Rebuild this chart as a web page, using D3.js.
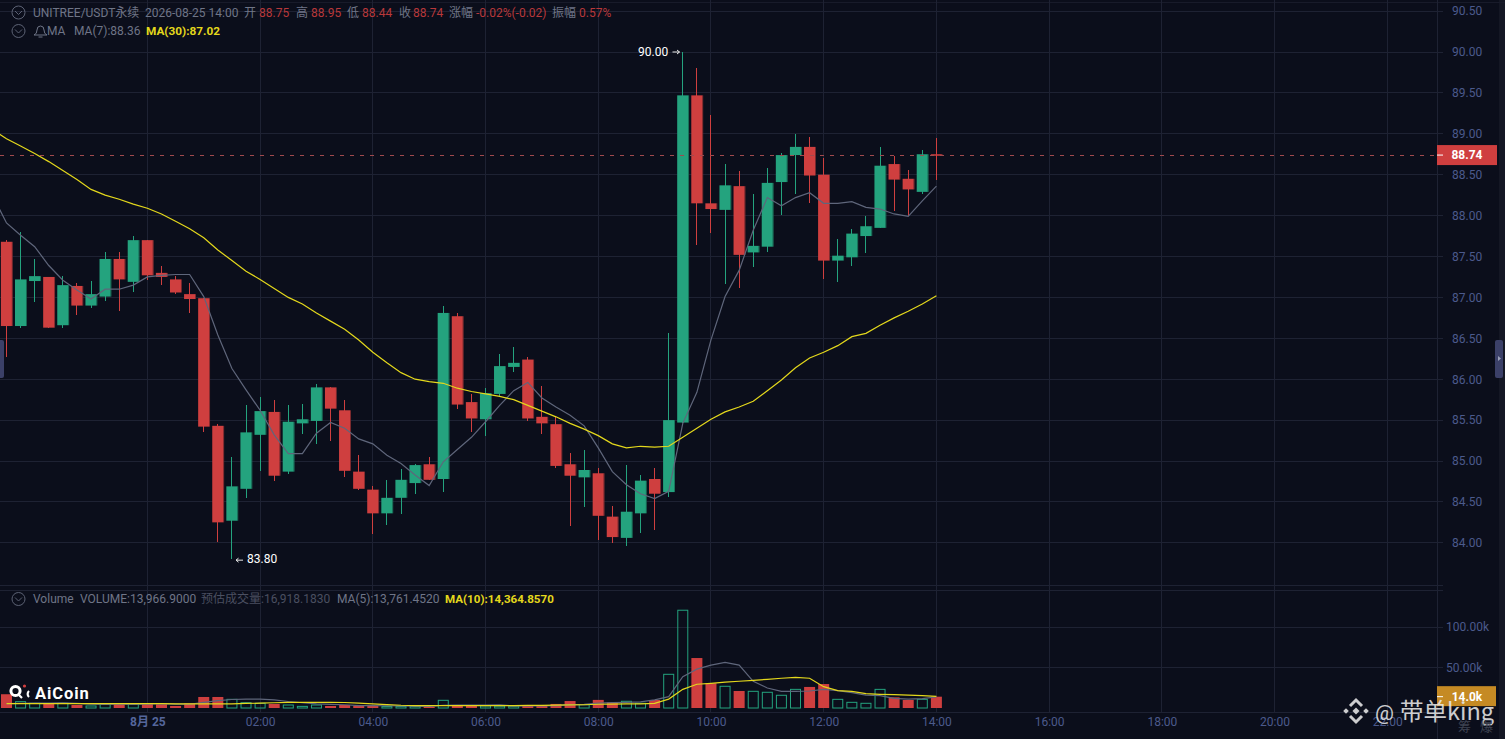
<!DOCTYPE html>
<html><head><meta charset="utf-8">
<script src="https://cdn.jsdelivr.net/npm/d3@7"></script>
<style>
html,body{margin:0;padding:0;background:#0b0e1b;overflow:hidden}
svg{display:block}
text{font-family:Roboto,"Noto Sans CJK SC",sans-serif;font-size:12px}
</style></head><body><svg id="c" width="1505" height="739"></svg>
<script>
const opens=[87.68,86.65,87.20,87.25,86.66,87.14,86.90,87.01,87.47,87.19,87.70,87.30,87.22,87.04,86.99,85.43,84.27,84.66,85.32,85.60,84.87,85.46,85.49,85.90,85.62,84.87,84.65,84.36,84.55,84.73,84.96,84.78,86.77,85.72,85.51,85.82,86.15,86.24,85.54,85.45,84.96,84.80,84.85,84.32,84.06,84.36,84.78,84.62,85.47,89.47,88.15,88.07,88.36,87.55,87.62,88.41,88.74,88.84,88.50,87.45,87.49,87.75,87.85,88.63,88.45,88.29,88.75];
const closes=[86.65,87.22,87.26,86.63,87.15,86.90,87.04,87.47,87.22,87.70,87.27,87.25,87.06,86.98,85.42,84.25,84.69,85.35,85.61,84.82,85.48,85.51,85.90,85.64,84.88,84.66,84.36,84.55,84.77,84.95,84.77,86.81,85.69,85.52,85.83,86.16,86.20,85.52,85.46,84.94,84.82,84.89,84.33,84.07,84.38,84.76,84.60,85.50,89.47,88.15,88.08,88.37,87.52,87.63,88.40,88.74,88.84,88.49,87.45,87.51,87.78,87.87,88.61,88.44,88.32,88.75,88.74];
const highs=[87.70,87.80,87.47,87.25,87.26,87.18,87.20,87.55,87.55,87.75,87.70,87.38,87.26,87.18,86.99,85.45,85.05,85.68,85.78,85.75,85.68,85.70,85.94,85.90,85.74,85.07,84.69,84.77,84.90,84.96,85.05,86.90,86.81,85.82,85.89,86.31,86.39,86.27,85.92,85.54,85.10,85.13,84.91,84.45,84.95,84.83,84.91,86.56,90.00,89.80,89.23,88.63,88.54,88.26,88.58,88.76,89.00,88.96,88.70,87.71,87.84,88.00,88.84,88.73,88.56,88.80,88.95];
const lows=[86.27,86.62,86.94,86.62,86.63,86.78,86.87,86.96,86.83,87.07,87.21,87.15,87.04,86.81,85.36,84.01,83.80,84.55,84.88,84.75,84.84,85.33,85.21,85.25,84.81,84.65,84.11,84.22,84.35,84.60,84.77,84.62,85.64,85.36,85.30,85.79,86.09,85.49,85.33,84.92,84.21,84.44,84.03,84.00,83.96,84.12,84.16,84.56,85.46,87.64,87.79,87.16,87.11,87.37,87.56,88.01,88.26,88.16,87.22,87.19,87.38,87.54,87.85,88.06,88.00,88.27,88.44];
// MA series start one candle before the first visible candle
const ma7=[88.25,87.91,87.76,87.62,87.39,87.21,87.09,86.98,87.10,87.10,87.15,87.25,87.27,87.28,87.28,87.01,86.54,86.13,85.87,85.62,85.32,85.09,85.09,85.34,85.47,85.40,85.27,85.21,85.07,84.97,84.83,84.70,84.99,85.14,85.29,85.48,85.68,85.86,85.96,85.77,85.66,85.56,85.43,85.16,84.87,84.71,84.60,84.54,84.63,85.46,85.84,86.48,87.01,87.33,87.82,88.22,88.12,88.22,88.28,88.15,88.15,88.17,88.10,88.08,88.02,87.99,88.18,88.36];
const ma30=[89.05,88.94,88.85,88.76,88.66,88.55,88.44,88.32,88.25,88.20,88.14,88.09,88.02,87.93,87.84,87.73,87.58,87.45,87.32,87.22,87.11,87.00,86.92,86.81,86.71,86.61,86.48,86.33,86.20,86.08,86.00,85.97,85.95,85.89,85.85,85.82,85.79,85.75,85.68,85.61,85.54,85.46,85.39,85.31,85.21,85.16,85.18,85.17,85.18,85.29,85.40,85.51,85.60,85.66,85.73,85.86,85.99,86.14,86.26,86.33,86.41,86.52,86.56,86.66,86.75,86.83,86.92,87.02];
const volumes=[17,7.8,5.8,5.8,5.8,3.7,2.5,4.6,5.8,5,5.8,4.6,2.5,5.8,13.6,13.6,10.7,6.5,5.8,5,3.7,2,3.7,2.5,3.7,2.5,2.5,1.8,1.8,1.8,1.5,9.5,2.5,2.5,2.5,2.3,2.3,2.5,3.3,5,8.6,4,10,7,8.3,5.8,9.9,41.6,120.7,61.7,30.5,26.8,21,20.6,19.4,15.7,23,26,29.6,10.7,7,5.8,23,13.2,9.9,10.7,13.97];
const volMa5=[5.5,5.6,6.0,6.2,6.3,5.8,4.8,4.4,4.6,4.5,4.6,5.3,4.9,4.6,7.0,9.0,10.5,11.0,11.0,10.0,8.0,6.5,5.0,4.5,4.0,3.0,3.0,2.8,2.6,2.2,2.0,3.4,3.6,3.7,3.7,3.8,2.5,2.5,2.5,3.0,4.2,4.5,6.0,6.7,7.0,7.5,10.0,14.0,38.6,48.0,53.0,56.4,53.0,33.0,24.7,20.6,20.6,21.0,23.0,21.4,18.9,16.0,15.2,12.0,11.0,11.5,13.76];
const volMa10=[5.3,5.3,5.3,5.3,5.3,5.3,5.3,5.3,5.3,5.3,5.3,5.3,5.2,5.0,5.0,5.0,5.2,5.6,6.0,6.5,7.0,7.0,7.0,7.0,6.8,6.0,5.2,4.2,3.4,3.0,3.0,3.0,3.0,3.0,3.0,3.0,3.0,3.2,3.3,3.5,3.8,4.0,4.6,4.8,5.0,5.2,5.8,11.0,23.0,29.3,30.5,32.0,33.0,34.2,35.4,36.7,37.9,36.7,26.3,21.4,20.6,17.7,16.9,16.4,16.0,15.2,14.36];
const priceTicks=[84,84.5,85,85.5,86,86.5,87,87.5,88,88.5,89,89.5,90,90.5];
const volumeTicks=[50,100];
const timeTickIndex=[10,18,26,34,42,50,58,66,74,82,90,98];
const timeTickLabels=["8月 25","02:00","04:00","06:00","08:00","10:00","12:00","14:00","16:00","18:00","20:00","22:00"];
const lastPrice=88.74, lastVolume=14, highMark=90.00, lowMark=83.80;

const BG="#0b0e1b",GRID="#1e2233",RED="#cf3f3f",GREEN="#24a37e",GREY="#5f667b",YEL="#e4d81c",AXIS="#4b5a8c",TXT="#6f7587",HRED="#b8383a";
const svg=d3.select("#c");
const W=1437;
const x=d3.scaleLinear().domain([0,66]).range([6.5,936.4]);
const y=d3.scaleLinear().domain([84,90]).range([542.8,52]);
const yV=d3.scaleLinear().domain([0,100]).range([708,627]);

const defs=svg.append("defs");
defs.append("clipPath").attr("id","p1").append("rect").attr("x",0).attr("y",0).attr("width",W).attr("height",585);
defs.append("clipPath").attr("id","p2").append("rect").attr("x",0).attr("y",590).attr("width",W).attr("height",122);

// frame
svg.append("rect").attr("x",1499).attr("y",0).attr("width",6).attr("height",739).attr("fill","#141724");
const hl=(yy,x1,x2,col)=>svg.append("line").attr("x1",x1).attr("x2",x2).attr("y1",yy).attr("y2",yy).attr("stroke",col||GRID);
const vl=(xx,y1,y2,col)=>svg.append("line").attr("x1",xx).attr("x2",xx).attr("y1",y1).attr("y2",y2).attr("stroke",col||GRID);
hl(2.5,0,1505,"#181b2a");hl(585.5,0,1443);hl(590.5,0,1443);hl(712.5,0,1443);
vl(1437.5,0,739);

// grid
const gridG=svg.append("g").attr("shape-rendering","crispEdges");
gridG.selectAll("line.h").data(priceTicks).join("line").attr("class","h").attr("x1",0).attr("x2",1443).attr("y1",d=>y(d)).attr("y2",d=>y(d)).attr("stroke",GRID);
gridG.selectAll("line.hv").data(volumeTicks).join("line").attr("class","hv").attr("x1",0).attr("x2",1443).attr("y1",d=>yV(d)).attr("y2",d=>yV(d)).attr("stroke",GRID);
gridG.selectAll("line.v").data(timeTickIndex).join("line").attr("class","v").attr("x1",d=>x(d)).attr("x2",d=>x(d)).attr("y1",0).attr("y2",712).attr("stroke",GRID);

// axes
const ax=svg.append("g").attr("transform","translate(1437,0)").call(d3.axisRight(y).tickValues(priceTicks).tickSize(0).tickPadding(15).tickFormat(d3.format(".2f")));
const axV=svg.append("g").attr("transform","translate(1437,0)").call(d3.axisRight(yV).tickValues(volumeTicks).tickSize(0).tickPadding(9).tickFormat(d=>d3.format(".2f")(d)+"k"));
const axT=svg.append("g").attr("transform","translate(0,712)").call(d3.axisBottom(x).tickValues(timeTickIndex).tickSize(0).tickPadding(5).tickFormat((d,i)=>timeTickLabels[i]));
[ax,axV,axT].forEach(g=>{g.select(".domain").remove();g.selectAll("text").attr("fill",AXIS).style("font-size","12px");});
axT.selectAll("text").filter((d,i)=>i===0).attr("font-weight","700").attr("fill","#55669c");

// candles
const idx=d3.range(opens.length);
const col=i=>closes[i]>=opens[i]?GREEN:RED;
const colDark=i=>closes[i]>=opens[i]?"#1a6f58":"#7f2c30";
const p1=svg.append("g").attr("clip-path","url(#p1)");
p1.append("g").attr("shape-rendering","crispEdges").selectAll("line").data(idx).join("line")
  .attr("x1",i=>x(i)).attr("x2",i=>x(i)).attr("y1",i=>y(highs[i])).attr("y2",i=>y(lows[i])).attr("stroke",col);
const bodyTop=i=>y(Math.max(opens[i],closes[i]));
const bodyH=i=>Math.max(1.5,Math.abs(y(opens[i])-y(closes[i])));
p1.append("g").selectAll("rect").data(idx).join("rect")
  .attr("x",i=>x(i)+5.3).attr("width",1).attr("y",bodyTop).attr("height",bodyH).attr("fill",colDark);
p1.append("g").selectAll("rect").data(idx).join("rect")
  .attr("x",i=>x(i)-5.6).attr("width",11).attr("y",bodyTop).attr("height",bodyH).attr("fill",col);

const line=(yy)=>d3.line().x((d,i)=>x(i-1)).y(d=>yy(d));
p1.append("path").attr("d",line(y)(ma7)).attr("fill","none").attr("stroke",GREY).attr("stroke-width",1.2);
p1.append("path").attr("d",line(y)(ma30)).attr("fill","none").attr("stroke",YEL).attr("stroke-width",1.2);

// last price line
svg.append("line").attr("x1",0).attr("x2",W).attr("y1",y(lastPrice)).attr("y2",y(lastPrice))
  .attr("stroke","#a04a4e").attr("stroke-dasharray","4 6").attr("shape-rendering","crispEdges");
svg.append("rect").attr("x",1437).attr("y",y(lastPrice)-10).attr("width",60).attr("height",20).attr("fill",RED);
svg.append("line").attr("x1",1437).attr("x2",1443).attr("y1",y(lastPrice)).attr("y2",y(lastPrice)).attr("stroke","#fff");
svg.append("text").attr("x",1467).attr("y",y(lastPrice)+4).attr("text-anchor","middle").attr("fill","#fff").attr("font-weight","700").text(lastPrice.toFixed(2));

// extreme labels
const arrow=(x0,yy,dir)=>svg.append("path").attr("d",dir>0?`M${x0} ${yy} h7 m-2.5 -2 l2.5 2 l-2.5 2`:`M${x0+7} ${yy} h-7 m2.5 -2 l-2.5 2 l2.5 2`).attr("fill","none").attr("stroke","#e8e8e8").attr("stroke-width",1);
svg.append("text").attr("x",638).attr("y",y(highMark)+3.5).attr("fill","#fff").text(highMark.toFixed(2));
arrow(672.5,y(highMark),1);
svg.append("text").attr("x",247).attr("y",y(lowMark)+4).attr("fill","#fff").text(lowMark.toFixed(2));
arrow(236,y(lowMark)+1,-1);

// volume
const p2=svg.append("g").attr("clip-path","url(#p2)");
p2.append("g").selectAll("rect").data(idx).join("rect")
  .attr("x",i=>closes[i]>=opens[i]?x(i)-5:x(i)-5.5)
  .attr("width",i=>closes[i]>=opens[i]?10:11)
  .attr("y",i=>yV(volumes[i]))
  .attr("height",i=>yV(0)-yV(volumes[i]))
  .attr("fill",i=>closes[i]>=opens[i]?"none":RED)
  .attr("stroke",i=>closes[i]>=opens[i]?GREEN:"none")
  .attr("stroke-width",1);
const lineV=d3.line().x((d,i)=>x(i)).y(d=>yV(d));
p2.append("path").attr("d",lineV(volMa5)).attr("fill","none").attr("stroke",GREY).attr("stroke-width",1.2);
p2.append("path").attr("d",lineV(volMa10)).attr("fill","none").attr("stroke",YEL).attr("stroke-width",1.2);
svg.append("rect").attr("x",1437).attr("y",yV(lastVolume)-10.5).attr("width",59).attr("height",20).attr("fill","#c58a24");
svg.append("line").attr("x1",1437).attr("x2",1443).attr("y1",yV(lastVolume)).attr("y2",yV(lastVolume)).attr("stroke","#fff");
svg.append("text").attr("x",1467).attr("y",yV(lastVolume)+4).attr("text-anchor","middle").attr("fill","#fff").attr("font-weight","700").text(lastVolume.toFixed(1)+"k");

// legend text
const t=(xx,yy,s,c,b,fs)=>{const e=svg.append("text").attr("x",xx).attr("y",yy).attr("fill",c||TXT).attr("font-weight",b?"700":null).text(s);if(fs)e.style("font-size",fs+"px");return e;};
const chev=(cx,cy)=>{const g=svg.append("g").attr("fill","none").attr("stroke","#5c6274");
  g.append("circle").attr("cx",cx).attr("cy",cy).attr("r",6.5);
  g.append("path").attr("d",`M${cx-3.5} ${cy-1.5} L${cx} ${cy+2} L${cx+3.5} ${cy-1.5}`);};
chev(18.5,12.5);chev(18.5,31);chev(18.5,599);
const Y1=17,Y2=35,Y3=603;
t(33,Y1,"UNITREE/USDT永续");t(145,Y1,"2026-08-25 14:00");
t(244,Y1,"开");t(259,Y1,"88.75",HRED);t(296,Y1,"高");t(311,Y1,"88.95",HRED);
t(347,Y1,"低");t(362,Y1,"88.44",HRED);t(399,Y1,"收");t(413,Y1,"88.74",HRED);
t(449,Y1,"涨幅");t(476,Y1,"-0.02%(-0.02)",HRED);t(552,Y1,"振幅");t(579,Y1,"0.57%",HRED);
svg.append("path").attr("d","M34 35 q3 -1 3 -5 q0 -4 3.5 -4 q3.5 0 3.5 4 q0 4 3 5 z M38.5 37 h4").attr("fill","none").attr("stroke","#6f7587");
t(47,Y2,"MA");t(74,Y2,"MA(7):88.36");t(146,Y2,"MA(30):87.02",YEL,true,11.8);
t(33,Y3,"Volume");t(80,Y3,"VOLUME:13,966.9000");t(201,Y3,"预估成交量:16,918.1830","#4a4f60");
t(337,Y3,"MA(5):13,761.4520");t(445,Y3,"MA(10):14,364.8570",YEL,true,11.6);

// handles
svg.append("rect").attr("x",-4).attr("y",340).attr("width",8).attr("height",38).attr("rx",2).attr("fill","#3b4068");
svg.append("rect").attr("x",1495).attr("y",340).attr("width",8).attr("height",38).attr("rx",2).attr("fill","#3b4068");
svg.append("path").attr("d","M1498 356 l3 2.5 l-3 2.5 z").attr("fill","#9aa0b8");

// watermark: AiCoin
const a=svg.append("g");
a.append("circle").attr("cx",15.5).attr("cy",691).attr("r",4.6).attr("fill","none").attr("stroke","#fff").attr("stroke-width",3);
a.append("path").attr("d","M19 695 L22 698 M29 691 a4 4 0 0 0 0 6").attr("stroke","#fff").attr("stroke-width",2.2).attr("fill","none");
a.append("circle").attr("cx",24.5).attr("cy",686).attr("r",1.6).attr("fill",RED);
a.append("text").attr("x",35).attr("y",699).attr("fill","#fff").attr("font-weight","700").style("font-size","16.5px").style("letter-spacing","0.9px").text("AiCoin");

// watermark: bottom right
const wm=svg.append("g").attr("opacity",.88);
const dia=(cx,cy,s)=>wm.append("rect").attr("x",cx-s/2).attr("y",cy-s/2).attr("width",s).attr("height",s).attr("fill","#e8e8e8").attr("transform",`rotate(45 ${cx} ${cy})`);
dia(1356,711,5);dia(1346,711,4);dia(1366,711,4);
wm.append("path").attr("d","M1350 706 L1356 700 L1362 706 M1350 716 L1356 722 L1362 716").attr("fill","none").attr("stroke","#e8e8e8").attr("stroke-width",3);
wm.append("text").attr("x",1375).attr("y",720).attr("fill","#e8e8e8").style("font-size","21px").text("@");
wm.append("text").attr("x",1400).attr("y",720).attr("fill","#e8e8e8").style("font-size","23.5px").style("font-family",'"Noto Sans CJK SC",Roboto,sans-serif').text("带单king");
svg.append("text").attr("x",1458).attr("y",731).attr("fill","#3e4352").style("font-size","13px").style("font-family",'"Noto Sans CJK SC"').text("筹");
svg.append("text").attr("x",1480).attr("y",731).attr("fill","#3e4352").style("font-size","13px").style("font-family",'"Noto Sans CJK SC"').text("爆");
</script></body></html>
